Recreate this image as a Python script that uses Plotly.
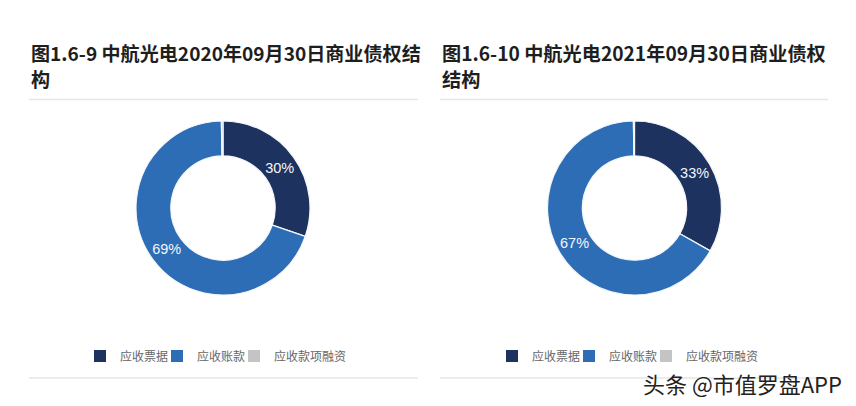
import plotly.graph_objects as go

categories = ["应收票据", "应收账款", "应收款项融资"]
values_2020 = [30.3, 69.4, 0.3]
values_2021 = [33.2, 66.6, 0.2]
title_lines = [["图1.6-9 中航光电2020年09月30日商业债权结", "构"],
               ["图1.6-10 中航光电2021年09月30日商业债权", "结构"]]
colors = ["#1d325e", "#2d6db5", "#c4c4c4"]

W, H = 856, 406
OX, OY = 8, 8  # page body margin offset
FONT = "Noto Sans CJK SC"

def px_x(x):
    return (x - OX) / W

def px_y(y):
    return 1 - (y - OY) / H

fig = go.Figure()

def pie(vals, cx):
    r = 87
    return go.Pie(
        labels=categories, values=vals, hole=0.6, sort=False,
        direction="clockwise", rotation=0,
        marker=dict(colors=colors, line=dict(color="#f4f6fa", width=1.2)),
        texttemplate=["%{percent:.0%}", "%{percent:.0%}", ""],
        textposition="inside", insidetextorientation="horizontal",
        textfont=dict(color="#f4f6fb", size=14.5, family="Arial"),
        domain=dict(x=[px_x(cx - r), px_x(cx + r)], y=[px_y(208 + r), px_y(208 - r)]),
        showlegend=False, hoverinfo="label+percent",
    )

fig.add_trace(pie(values_2020, 223))
fig.add_trace(pie(values_2021, 634.5))

# legend entries (one legend under each donut)
for lg in ["legend", "legend2"]:
    for name, col in zip(categories, colors):
        fig.add_trace(go.Scatter(x=[None], y=[None], mode="markers", name=name,
                                 marker=dict(symbol="square", size=12, color=col),
                                 legend=lg, showlegend=True, hoverinfo="skip"))
    # blank spacer entry so the last label is not clipped
    fig.add_trace(go.Scatter(x=[None], y=[None], mode="markers", name=" ",
                             marker=dict(symbol="square", size=12, color="rgba(0,0,0,0)"),
                             legend=lg, showlegend=True, hoverinfo="skip"))

leg_common = dict(orientation="h", yanchor="middle", xanchor="left",
                  font=dict(family=FONT, size=12, color="#666666"),
                  bgcolor="rgba(0,0,0,0)", itemwidth=30, tracegroupgap=0,
                  entrywidth=32, entrywidthmode="pixels", itemclick=False,
                  itemdoubleclick=False)
fig.update_layout(
    legend=dict(x=px_x(80), y=px_y(356), **leg_common),
    legend2=dict(x=px_x(492), y=px_y(356), **leg_common),
)

for lines, x0, fs in zip(title_lines, [29, 440], [19.1, 19.2]):
    for i, t in enumerate(lines):
        fig.add_annotation(text="<b>" + t + "</b>", x=px_x(x0), y=px_y(53 + 26 * i),
                           xref="paper", yref="paper", xanchor="left", yanchor="middle",
                           align="left", showarrow=False,
                           font=dict(family=FONT, size=fs, color="#1e1e1e"))

shapes = []
for x0, x1 in [(29, 418), (440, 828)]:
    for y in [99.5, 378]:
        shapes.append(dict(type="line", xref="paper", yref="paper",
                           x0=px_x(x0), x1=px_x(x1), y0=px_y(y), y1=px_y(y),
                           line=dict(color="#e6e6e6", width=1.5)))
fig.update_layout(shapes=shapes)

fig.add_annotation(text="头条 @市值罗盘APP", x=px_x(844), y=px_y(383),
                   xref="paper", yref="paper", xanchor="right", yanchor="middle",
                   showarrow=False, font=dict(family=FONT, size=22, color="#222222"))

fig.update_layout(width=W, height=H, margin=dict(l=0, r=0, t=0, b=0),
                  paper_bgcolor="white", plot_bgcolor="white",
                  font=dict(family=FONT),
                  xaxis=dict(visible=False), yaxis=dict(visible=False))

fig.write_html("out.html")
